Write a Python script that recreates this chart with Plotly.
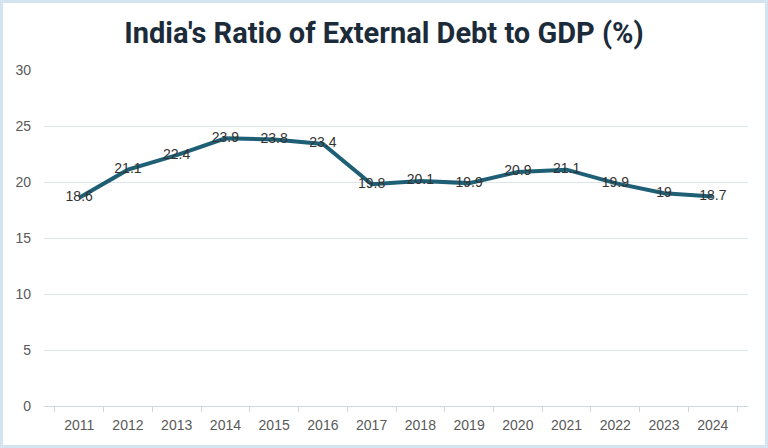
import plotly.graph_objects as go

years = ["2011", "2012", "2013", "2014", "2015", "2016", "2017", "2018", "2019", "2020", "2021", "2022", "2023", "2024"]
ratio = [18.6, 21.1, 22.4, 23.9, 23.8, 23.4, 19.8, 20.1, 19.9, 20.9, 21.1, 19.9, 19, 18.7]
labels = [str(v) for v in ratio]
y_ticks = [0, 5, 10, 15, 20, 25, 30]

W, H = 768, 448
ml, mr, mt, mb = 44, 20, 70, 42
pw, ph = W - ml - mr, H - mt - mb

fig = go.Figure()
fig.add_trace(go.Scatter(
    x=years, y=ratio, mode="lines+text", text=labels, textposition="middle center",
    line=dict(color="#1f5f76", width=4), textfont=dict(family="Liberation Sans, Arial", size=14, color="#333333"),
    cliponaxis=False, hoverinfo="skip"))

def px2x(px):
    return (px - ml) / pw

def py2y(py):
    return 1 - (py - mt) / ph

fig.add_shape(type="rect", xref="paper", yref="paper",
              x0=px2x(1.5), x1=px2x(W - 1.5), y0=py2y(H - 1.5), y1=py2y(1.5),
              line=dict(color="#d3e3ef", width=3), fillcolor="rgba(0,0,0,0)", layer="below")

fig.update_layout(
    width=W, height=H, margin=dict(l=ml, r=mr, t=mt, b=mb),
    paper_bgcolor="white", plot_bgcolor="white", showlegend=False,
    title=dict(text="<b>India's Ratio of External Debt to GDP (%)</b>", x=0.5, xanchor="center",
               y=1 - 33 / H, yanchor="middle",
               font=dict(family="Liberation Sans Narrow, Roboto, sans-serif", size=29, color="#1c2b3a")),
    xaxis=dict(type="category", tickson="boundaries", ticks="outside", ticklen=5, tickcolor="#cfd6dd",
               showline=True, linecolor="#cfd6dd", linewidth=1, showgrid=False, ticklabelstandoff=6,
               tickfont=dict(family="Liberation Sans, Arial", size=14, color="#595959")),
    yaxis=dict(range=[0, 30], tickvals=y_ticks, showgrid=True, gridcolor="#dce4ec", gridwidth=1,
               zeroline=False, showline=False, ticks="", ticklabelstandoff=12,
               tickfont=dict(family="Liberation Sans, Arial", size=14, color="#595959")),
)

fig.write_html("out.html")
